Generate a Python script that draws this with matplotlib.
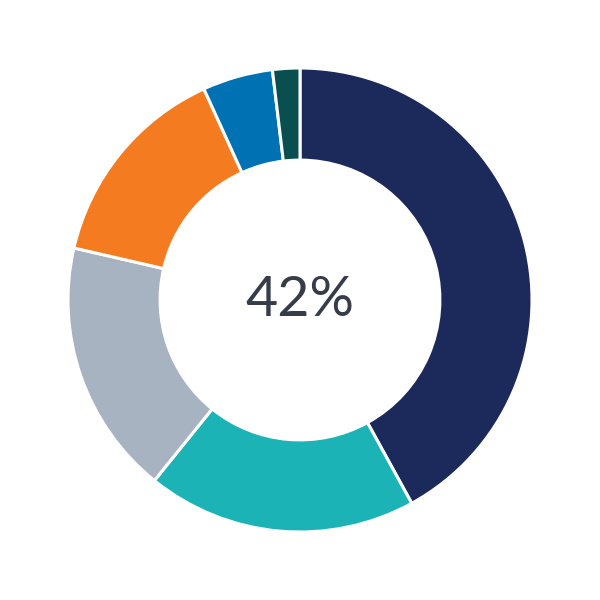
import matplotlib

matplotlib.use("Agg")
import matplotlib.pyplot as plt

# slice shares, clockwise from the top
shares = [42, 18.8, 17.8, 14.6, 4.9, 1.9]
colors = ["#1b2a5a", "#1bb3b5", "#a8b3c1", "#f47b20", "#0072b4", "#0a4f4f"]
center_label = "42%"

fig = plt.figure(figsize=(6, 6), dpi=100)
ax = fig.add_axes([0, 0, 1, 1])
ax.pie(shares, colors=colors, startangle=90, counterclock=False,
       radius=1.0,
       wedgeprops=dict(width=0.397, edgecolor="white", linewidth=2.2))
lim = 300 / 232
ax.set_xlim(-lim, lim)
ax.set_ylim(-lim, lim)
ax.set_aspect("equal")
ax.axis("off")
ax.text(0, 0, center_label, ha="center", va="center", fontsize=40,
        color="#363c48", family=["Lato", "DejaVu Sans"], fontweight="normal")

fig.savefig("out.png", dpi=100, facecolor="white")
